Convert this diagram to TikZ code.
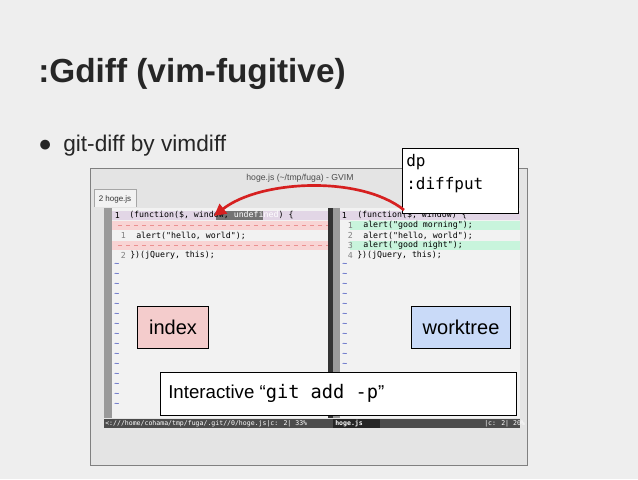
\documentclass[tikz,border=0pt]{standalone}
\usepackage{fontspec}
\setmainfont{Liberation Sans}
\newfontfamily\monof{DejaVu Sans Mono}
\newfontfamily\boxmono{DejaVu Sans Mono}
\usetikzlibrary{arrows.meta}
\definecolor{slidebg}{HTML}{EEEEEE}
\definecolor{winbg}{HTML}{E4E4E4}
\definecolor{edbg}{HTML}{F2F2F2}
\definecolor{chg}{HTML}{E2D6E6}
\definecolor{dele}{HTML}{F8D4D4}
\definecolor{addc}{HTML}{C8F4DC}
\definecolor{gut}{HTML}{9A9A9A}
\definecolor{idx}{HTML}{F4CCCC}
\definecolor{wt}{HTML}{C9DAF8}
\definecolor{tild}{HTML}{3344BB}
\definecolor{arr}{HTML}{D62020}
\tikzset{
  code/.style={anchor=west,inner sep=0pt,font=\monof\fontsize{6.2}{7}\selectfont},
  lnum/.style={anchor=east,inner sep=0pt,font=\monof\fontsize{6.2}{7}\selectfont,text=gray},
  tl/.style={anchor=west,inner sep=0pt,font=\monof\fontsize{6.2}{7}\selectfont,text=tild},
  stat/.style={anchor=west,inner sep=0pt,text=white,font=\monof\fontsize{4.9}{6}\selectfont},
  callout/.style={draw=black,line width=0.8pt,inner sep=0pt},
  big/.style={font=\fontsize{15}{18}\selectfont},
}
\begin{document}
\begin{tikzpicture}[x=0.75pt,y=-0.75pt]
\useasboundingbox (0,0) rectangle (638,479);
\fill[slidebg] (0,0) rectangle (638,479);
\node[anchor=base west,inner sep=0pt,font=\bfseries\fontsize{25}{30}\selectfont,text=black!85] (title) at (38,82) {:Gdiff (vim-fugitive)};
\node[anchor=base west,inner sep=0pt,font=\fontsize{17}{20}\selectfont,text=black!85] (bul) at (38,151) {●\enspace git-diff by vimdiff};
% window
\fill[winbg] (90,168) rectangle (527,465);
\draw[gray] (90,168) rectangle (527,465);
\node[font=\fontsize{6.5}{8}\selectfont,text=black!70] (wtitle) at (300,178) {hoge.js (\textasciitilde/tmp/fuga) - GVIM};
\fill[edbg] (94,189) rectangle (136,207);
\draw[gray!70] (94,207) -- (94,189) -- (136,189) -- (136,207);
\node[font=\fontsize{6}{7}\selectfont,text=black!80] (tab) at (115,199) {2 hoge.js};
% editor
\fill[edbg] (104,208) rectangle (520,418);
\fill[gut] (104,208) rectangle (112,418);
\fill[gut] (333,208) rectangle (340,418);
\fill[black!80] (328,208) rectangle (333,418);
% left lines
\fill[chg] (112,211) rectangle (328,220);
\fill[black!55] (216,211) rectangle (263,220);
\fill[dele] (112,221) rectangle (328,230);
\draw[arr!50,dashed] (118,225.5) -- (328,225.5);
\fill[dele] (112,241) rectangle (328,250);
\draw[arr!50,dashed] (118,245.5) -- (328,245.5);
\node[lnum,text=black] at (120,215.5) {1};
\node[code] at (129,215.5) {(function(\$, window, \textcolor{white}{undefined}) \{};
\node[lnum] at (126,235.5) {1};
\node[code] at (136,235.5) {alert("hello, world");};
\node[lnum] at (126,255.5) {2};
\node[code] at (130,255.5) {\})(jQuery, this);};
% right lines
\fill[chg] (340,211) rectangle (520,220);
\fill[addc] (350,221) rectangle (520,230);
\fill[addc] (350,241) rectangle (520,250);
\node[lnum,text=black] at (347,215.5) {1};
\node[code] at (357,215.5) {(function(\$, window) \{};
\node[lnum] at (353,225.5) {1};
\node[code] at (363,225.5) {alert("good morning");};
\node[lnum] at (353,235.5) {2};
\node[code] at (363,235.5) {alert("hello, world");};
\node[lnum] at (353,245.5) {3};
\node[code] at (363,245.5) {alert("good night");};
\node[lnum] at (353,255.5) {4};
\node[code] at (357,255.5) {\})(jQuery, this);};
\foreach \yy in {265,275,...,405} {
  \node[tl] at (114,\yy) {\textasciitilde};
}
\foreach \yy in {265,275,...,365} {
  \node[tl] at (342,\yy) {\textasciitilde};
}
% status bar
\fill[black!70] (104,419) rectangle (520,428);
\fill[black!85] (333,419) rectangle (380,428);
\node[stat] (st1) at (105,423.5) {<:///home/cohama/tmp/fuga/.git//0/hoge.js|c: 2| 33\%};
\node[stat,font=\monof\bfseries\fontsize{4.9}{6}\selectfont] (st2) at (335,423.5) {hoge.js};
\node[stat] (st3) at (484,423.5) {|c: 2| 20\%};
% callouts
\node[callout,fill=white,minimum width=116pt*0.75,minimum height=65pt*0.75,anchor=north west] (dp) at (402,148) {};
\node[anchor=north west,inner sep=0pt,align=left,font=\boxmono\fontsize{12}{17}\selectfont] (dpt) at (406,154) {dp\\:diffput};
\node[callout,fill=idx,minimum width=71pt*0.75,minimum height=42pt*0.75,anchor=north west] (idxb) at (137,306) {};
\node[big] at (idxb) {index};
\node[callout,fill=wt,minimum width=99pt*0.75,minimum height=42pt*0.75,anchor=north west] (wtb) at (411,306) {};
\node[big] at (wtb) {worktree};
\node[callout,fill=white,minimum width=356pt*0.75,minimum height=43pt*0.75,anchor=north west] (ia) at (160,372) {};
\node[anchor=west,inner sep=0pt,font=\fontsize{14}{17}\selectfont] (iat) at (168,393) {Interactive “{\boxmono git add -p}”};
% arrow
\coordinate (as) at (404,210);
\coordinate (ae) at (214,216);
\draw[arr,line width=2pt,-{Triangle[length=9pt,width=9pt]}] (as) .. controls (360,175) and (260,180) .. (ae);
\end{tikzpicture}
\end{document}
